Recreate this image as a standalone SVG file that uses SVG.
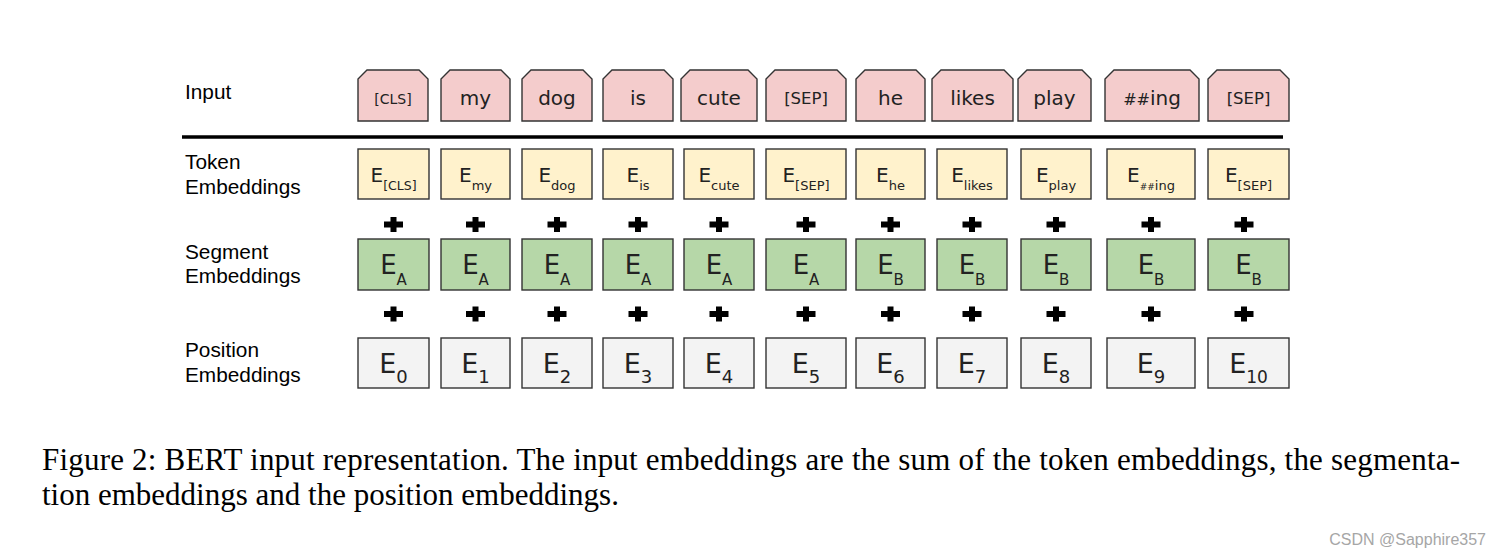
<svg xmlns="http://www.w3.org/2000/svg" width="1503" height="556" viewBox="0 0 1503 556">
<style>
.lbl{font-family:"Liberation Sans",Arial,sans-serif;font-size:20.8px;fill:#000}
.bt{font-family:"DejaVu Sans",Verdana,sans-serif;fill:#222;text-anchor:middle}
.in{fill:#f4cccc;stroke:#333;stroke-width:1.4}
.tok{fill:#fff2cc;stroke:#333;stroke-width:1.4}
.seg{fill:#b6d7a8;stroke:#333;stroke-width:1.4}
.pos{fill:#f3f3f3;stroke:#333;stroke-width:1.4}
.cap{font-family:"Liberation Serif","Times New Roman",serif;font-size:31px;fill:#000}
</style>
<defs>
<path id="plus" d="M-3,-7.5 H3 V-3 H9.5 V3 H3 V7.5 H-3 V3 H-9.5 V-3 H-3 Z" fill="#000"/>
</defs>
<rect width="1503" height="556" fill="#fff"/>
<g id="row-labels">
<text class="lbl" x="185" y="99">Input</text>
<text class="lbl" x="185" y="169">Token</text>
<text class="lbl" x="185" y="194">Embeddings</text>
<text class="lbl" x="185" y="259">Segment</text>
<text class="lbl" x="185" y="283">Embeddings</text>
<text class="lbl" x="185" y="357">Position</text>
<text class="lbl" x="185" y="382">Embeddings</text>
</g>
<g id="divider"><line x1="182" y1="137" x2="1283" y2="137" stroke="#000" stroke-width="3.5"/></g>
<g id="inputs">
<path class="in" d="M358,121V79L367,70H419L428,79V121Z"/><text class="bt" x="393" y="104" font-size="14">[CLS]</text>
<path class="in" d="M441,121V79L450,70H501L510,79V121Z"/><text class="bt" x="475.5" y="105" font-size="20">my</text>
<path class="in" d="M522,121V79L531,70H583L592,79V121Z"/><text class="bt" x="557" y="105" font-size="20">dog</text>
<path class="in" d="M603,121V79L612,70H664L673,79V121Z"/><text class="bt" x="638" y="105" font-size="20">is</text>
<path class="in" d="M681,121V79L690,70H748L757,79V121Z"/><text class="bt" x="719" y="105" font-size="20">cute</text>
<path class="in" d="M766,121V79L775,70H837L846,79V121Z"/><text class="bt" x="806" y="104" font-size="16.5">[SEP]</text>
<path class="in" d="M856,121V79L865,70H916L925,79V121Z"/><text class="bt" x="890.5" y="105" font-size="20">he</text>
<path class="in" d="M932,121V79L941,70H1004L1013,79V121Z"/><text class="bt" x="972.5" y="105" font-size="20">likes</text>
<path class="in" d="M1018,121V79L1027,70H1082L1091,79V121Z"/><text class="bt" x="1054.5" y="105" font-size="20">play</text>
<path class="in" d="M1105,121V79L1114,70H1190L1199,79V121Z"/><text class="bt" x="1152" y="105" font-size="20"><tspan font-size="16">##</tspan>ing</text>
<path class="in" d="M1208,121V79L1217,70H1280L1289,79V121Z"/><text class="bt" x="1248.5" y="104" font-size="16.5">[SEP]</text>
</g>
<g id="token-embeddings">
<rect class="tok" x="358" y="149" width="71" height="50"/><text class="bt" x="393.5" y="182" font-size="20">E<tspan font-size="12.5" dy="8">[CLS]</tspan></text>
<rect class="tok" x="441" y="149" width="69" height="50"/><text class="bt" x="475.5" y="182" font-size="20">E<tspan font-size="13" dy="8">my</tspan></text>
<rect class="tok" x="522" y="149" width="70" height="50"/><text class="bt" x="557" y="182" font-size="20">E<tspan font-size="13" dy="8">dog</tspan></text>
<rect class="tok" x="603" y="149" width="70" height="50"/><text class="bt" x="638" y="182" font-size="20">E<tspan font-size="13" dy="8">is</tspan></text>
<rect class="tok" x="684" y="149" width="70" height="50"/><text class="bt" x="719" y="182" font-size="20">E<tspan font-size="13" dy="8">cute</tspan></text>
<rect class="tok" x="766" y="149" width="80" height="50"/><text class="bt" x="806" y="182" font-size="20">E<tspan font-size="13" dy="8">[SEP]</tspan></text>
<rect class="tok" x="856" y="149" width="69" height="50"/><text class="bt" x="890.5" y="182" font-size="20">E<tspan font-size="13" dy="8">he</tspan></text>
<rect class="tok" x="937" y="149" width="70" height="50"/><text class="bt" x="972" y="182" font-size="20">E<tspan font-size="13" dy="8">likes</tspan></text>
<rect class="tok" x="1021" y="149" width="70" height="50"/><text class="bt" x="1056" y="182" font-size="20">E<tspan font-size="13" dy="8">play</tspan></text>
<rect class="tok" x="1107" y="149" width="88" height="50"/><text class="bt" x="1151" y="182" font-size="20">E<tspan font-size="9" dy="8">##</tspan><tspan font-size="13">ing</tspan></text>
<rect class="tok" x="1208" y="149" width="81" height="50"/><text class="bt" x="1248.5" y="182" font-size="20">E<tspan font-size="13" dy="8">[SEP]</tspan></text>
</g>
<g id="segment-embeddings">
<rect class="seg" x="358" y="239" width="71" height="51"/><text class="bt" x="393.5" y="274" font-size="26">E<tspan font-size="15" dy="11">A</tspan></text>
<rect class="seg" x="441" y="239" width="69" height="51"/><text class="bt" x="475.5" y="274" font-size="26">E<tspan font-size="15" dy="11">A</tspan></text>
<rect class="seg" x="522" y="239" width="70" height="51"/><text class="bt" x="557" y="274" font-size="26">E<tspan font-size="15" dy="11">A</tspan></text>
<rect class="seg" x="603" y="239" width="70" height="51"/><text class="bt" x="638" y="274" font-size="26">E<tspan font-size="15" dy="11">A</tspan></text>
<rect class="seg" x="684" y="239" width="70" height="51"/><text class="bt" x="719" y="274" font-size="26">E<tspan font-size="15" dy="11">A</tspan></text>
<rect class="seg" x="766" y="239" width="80" height="51"/><text class="bt" x="806" y="274" font-size="26">E<tspan font-size="15" dy="11">A</tspan></text>
<rect class="seg" x="856" y="239" width="69" height="51"/><text class="bt" x="890.5" y="274" font-size="26">E<tspan font-size="15" dy="11">B</tspan></text>
<rect class="seg" x="937" y="239" width="70" height="51"/><text class="bt" x="972" y="274" font-size="26">E<tspan font-size="15" dy="11">B</tspan></text>
<rect class="seg" x="1021" y="239" width="70" height="51"/><text class="bt" x="1056" y="274" font-size="26">E<tspan font-size="15" dy="11">B</tspan></text>
<rect class="seg" x="1107" y="239" width="88" height="51"/><text class="bt" x="1151" y="274" font-size="26">E<tspan font-size="15" dy="11">B</tspan></text>
<rect class="seg" x="1208" y="239" width="81" height="51"/><text class="bt" x="1248.5" y="274" font-size="26">E<tspan font-size="15" dy="11">B</tspan></text>
</g>
<g id="position-embeddings">
<rect class="pos" x="358" y="338" width="71" height="50"/><text class="bt" x="393.5" y="373" font-size="27">E<tspan font-size="18" dy="10">0</tspan></text>
<rect class="pos" x="441" y="338" width="69" height="50"/><text class="bt" x="475.5" y="373" font-size="27">E<tspan font-size="18" dy="10">1</tspan></text>
<rect class="pos" x="522" y="338" width="70" height="50"/><text class="bt" x="557" y="373" font-size="27">E<tspan font-size="18" dy="10">2</tspan></text>
<rect class="pos" x="603" y="338" width="70" height="50"/><text class="bt" x="638" y="373" font-size="27">E<tspan font-size="18" dy="10">3</tspan></text>
<rect class="pos" x="684" y="338" width="70" height="50"/><text class="bt" x="719" y="373" font-size="27">E<tspan font-size="18" dy="10">4</tspan></text>
<rect class="pos" x="766" y="338" width="80" height="50"/><text class="bt" x="806" y="373" font-size="27">E<tspan font-size="18" dy="10">5</tspan></text>
<rect class="pos" x="856" y="338" width="69" height="50"/><text class="bt" x="890.5" y="373" font-size="27">E<tspan font-size="18" dy="10">6</tspan></text>
<rect class="pos" x="937" y="338" width="70" height="50"/><text class="bt" x="972" y="373" font-size="27">E<tspan font-size="18" dy="10">7</tspan></text>
<rect class="pos" x="1021" y="338" width="70" height="50"/><text class="bt" x="1056" y="373" font-size="27">E<tspan font-size="18" dy="10">8</tspan></text>
<rect class="pos" x="1107" y="338" width="88" height="50"/><text class="bt" x="1151" y="373" font-size="27">E<tspan font-size="18" dy="10">9</tspan></text>
<rect class="pos" x="1208" y="338" width="81" height="50"/><text class="bt" x="1248.5" y="373" font-size="27">E<tspan font-size="17" dy="10">10</tspan></text>
</g>
<g id="connectors">
<use href="#plus" x="393.5" y="224.5"/><use href="#plus" x="475.5" y="224.5"/><use href="#plus" x="557" y="224.5"/><use href="#plus" x="638" y="224.5"/><use href="#plus" x="719" y="224.5"/><use href="#plus" x="806" y="224.5"/><use href="#plus" x="890.5" y="224.5"/><use href="#plus" x="972" y="224.5"/><use href="#plus" x="1056" y="224.5"/><use href="#plus" x="1151" y="224.5"/><use href="#plus" x="1244" y="224.5"/>
<use href="#plus" x="393.5" y="314"/><use href="#plus" x="475.5" y="314"/><use href="#plus" x="557" y="314"/><use href="#plus" x="638" y="314"/><use href="#plus" x="719" y="314"/><use href="#plus" x="806" y="314"/><use href="#plus" x="890.5" y="314"/><use href="#plus" x="972" y="314"/><use href="#plus" x="1056" y="314"/><use href="#plus" x="1151" y="314"/><use href="#plus" x="1244" y="314"/>
</g>
<g id="caption">
<text class="cap" x="42" y="470" textLength="1418" lengthAdjust="spacing">Figure 2: BERT input representation. The input embeddings are the sum of the token embeddings, the segmenta-</text>
<text class="cap" x="42" y="505">tion embeddings and the position embeddings.</text>
</g>
<g id="watermark"><text x="1486" y="545" text-anchor="end" font-family="Liberation Sans,Arial,sans-serif" font-size="16" fill="#a6a6a6">CSDN @Sapphire357</text></g>
</svg>
